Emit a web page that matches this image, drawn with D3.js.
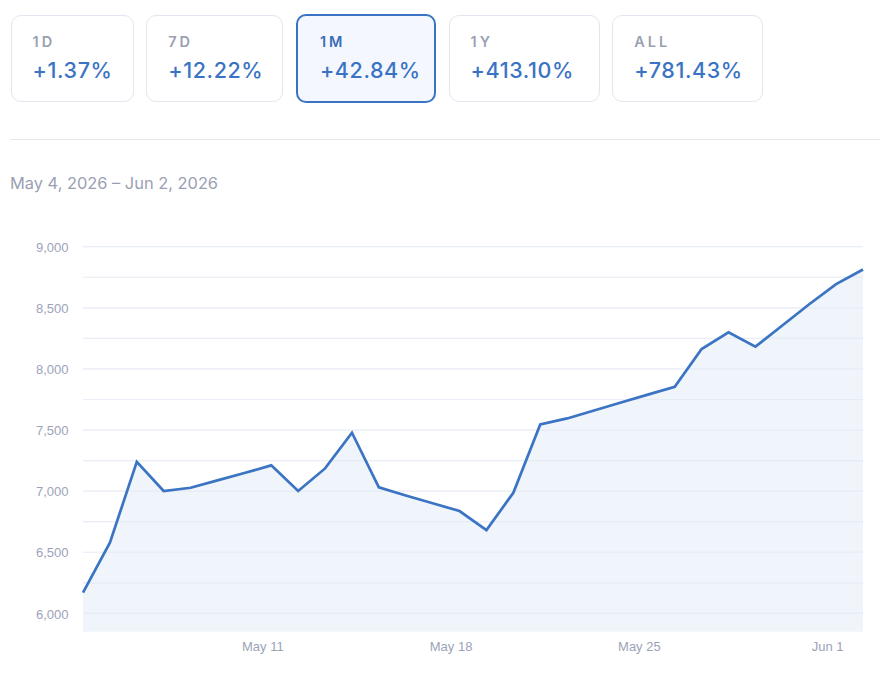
<!DOCTYPE html>
<html>
<head>
<meta charset="utf-8">
<script src="https://cdn.jsdelivr.net/npm/d3@7/dist/d3.min.js"></script>
<style>
  html, body { margin: 0; padding: 0; background: #ffffff; }
  body { width: 883px; height: 681px; position: relative; overflow: hidden; font-family: Inter, "Noto Sans", sans-serif; }
  #cards { position: absolute; left: 10.5px; top: 15px; display: flex; gap: 12.7px; align-items: flex-start; }
  .card { box-sizing: border-box; height: 87px; border: 1px solid #e3e6ef; border-radius: 10px; padding: 0 0 0 21px; background: #fff; position: relative; }
  .card.active { border: 2px solid #3a73c4; background: #f4f8fe; padding: 0 0 0 22px; height: 89px; margin-top: -1px; }
  .card .lab { position: absolute; top: 17px; font-size: 14.5px; font-weight: 600; letter-spacing: 3px; color: #9aa0b3; line-height: 17px; white-space: nowrap; }
  .card.active .lab { color: #3a6db8; top: 17px; }
  .card .val { margin-top: 41px; font-size: 21.5px; font-weight: 500; letter-spacing: 0.6px; color: #3a73c4; line-height: 26px; white-space: nowrap; }
  .card.active .val { margin-top: 41px; }
  #divider { position: absolute; left: 10px; top: 139px; width: 870px; height: 1px; background: #e5e7ee; }
  #range { position: absolute; left: 10px; top: 173px; font-size: 16.4px; color: #9aa0b3; line-height: 20px; }
  svg { position: absolute; left: 0; top: 0; }
</style>
</head>
<body>
<div id="cards"></div>
<div id="divider"></div>
<div id="range"></div>
<svg id="chart" width="883" height="681"></svg>
<script>
// ---- data ----
const periodLabels = ["1D", "7D", "1M", "1Y", "ALL"];
const periodChanges = ["+1.37%", "+12.22%", "+42.84%", "+413.10%", "+781.43%"];
const activePeriod = "1M";
const rangeText = "May 4, 2026 – Jun 2, 2026";
const dates = [
  "2026-05-04","2026-05-05","2026-05-06","2026-05-07","2026-05-08","2026-05-09","2026-05-10",
  "2026-05-11","2026-05-12","2026-05-13","2026-05-14","2026-05-15","2026-05-16","2026-05-17",
  "2026-05-18","2026-05-19","2026-05-20","2026-05-21","2026-05-22","2026-05-23","2026-05-24",
  "2026-05-25","2026-05-26","2026-05-27","2026-05-28","2026-05-29","2026-05-30","2026-05-31",
  "2026-06-01","2026-06-02"
];
const values = [
  6170, 6578, 7240, 7001, 7028, 7088, 7148,
  7211, 7001, 7186, 7478, 7031, 6965, 6901,
  6837, 6681, 6987, 7546, 7595, 7660, 7725,
  7790, 7853, 8163, 8299, 8182, 8355, 8529,
  8694, 8813
];
const yTicks = [6000, 6500, 7000, 7500, 8000, 8500, 9000];
const yGrid = [6000, 6250, 6500, 6750, 7000, 7250, 7500, 7750, 8000, 8250, 8500, 8750, 9000];
const yDomain = [5850, 9000];

(function () {
// ---- cards ----
const cardWidths = [123, 137, 140, 151, 151];
const cards = d3.select("#cards").selectAll("div.card")
  .data(periodLabels.map((l, i) => ({ label: l, change: periodChanges[i], i })))
  .join("div")
  .attr("class", d => "card" + (d.label === activePeriod ? " active" : ""))
  .style("width", d => cardWidths[d.i] + "px");
cards.append("div").attr("class", "lab").text(d => d.label);
cards.append("div").attr("class", "val").text(d => d.change);
d3.select("#range").text(rangeText);

// ---- chart ----
const parse = d3.utcParse("%Y-%m-%d");
const data = dates.map((d, i) => ({ date: d3.utcHour.offset(parse(d), 8), value: values[i] }));

const svg = d3.select("#chart");
const pl = 83, pr = 863, pt = 246.7, pb = 631.7;

const x = d3.scaleUtc().domain(d3.extent(data, d => d.date)).range([pl, pr]);
const y = d3.scaleLinear().domain(yDomain).range([pb, pt]);

// gridlines
svg.append("g").selectAll("line").data(yGrid).join("line")
  .attr("x1", pl).attr("x2", pr)
  .attr("y1", d => y(d)).attr("y2", d => y(d))
  .attr("stroke", "#f0f2f7").attr("stroke-width", 1.2);

// area
const area = d3.area().x(d => x(d.date)).y0(y(yDomain[0])).y1(d => y(d.value));
svg.append("path").datum(data).attr("d", area).attr("fill", "#e6ecf8").attr("fill-opacity", 0.6);

// gridlines over area (subtle)
svg.append("g").selectAll("line").data(yGrid).join("line")
  .attr("x1", pl).attr("x2", pr)
  .attr("y1", d => y(d)).attr("y2", d => y(d))
  .attr("stroke", "#e3e8f3").attr("stroke-opacity", 0.45).attr("stroke-width", 1.2);

// line
const line = d3.line().x(d => x(d.date)).y(d => y(d.value));
svg.append("path").datum(data).attr("d", line)
  .attr("fill", "none").attr("stroke", "#3a74c3").attr("stroke-width", 2.7)
  .attr("stroke-linejoin", "miter").attr("stroke-linecap", "butt");

// y axis
const yAxis = d3.axisLeft(y).tickValues(yTicks).tickSize(0).tickPadding(0).tickFormat(d3.format(","));
const gy = svg.append("g").attr("transform", `translate(${68.5},0)`).call(yAxis);
gy.select(".domain").remove();
gy.selectAll("text").attr("fill", "#9ca3b9").attr("font-size", 13)
  .attr("font-family", "'Liberation Sans', Arial, sans-serif").attr("dy", "0.36em");

// x axis
const xTicks = x.ticks(d3.utcMonday.every(1)).filter(d => d > x.domain()[0]);
const xAxis = d3.axisBottom(x).tickValues(xTicks).tickSize(0).tickPadding(0)
  .tickFormat(d3.utcFormat("%b %-d"));
const gx = svg.append("g").attr("transform", `translate(0,${642})`).call(xAxis);
gx.select(".domain").remove();
gx.selectAll("text").attr("fill", "#9ca3b9").attr("font-size", 13)
  .attr("font-family", "'Liberation Sans', Arial, sans-serif").attr("dy", "0.71em");
})();
</script>
</body>
</html>
